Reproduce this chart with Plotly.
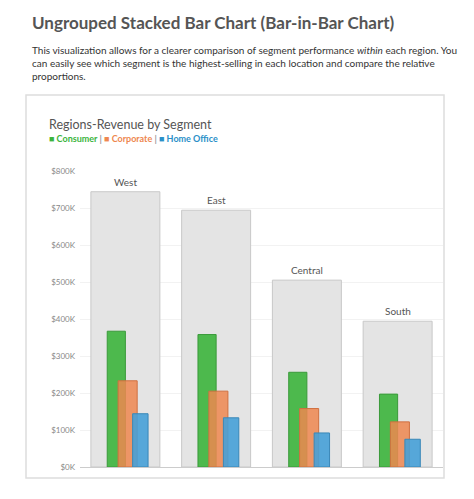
import plotly.graph_objects as go

regions = ["West", "East", "Central", "South"]
total = [744, 694, 505, 394]
consumer = [367, 358, 256, 197]
corporate = [233, 205, 158, 122]
home_office = [144, 133, 92, 75]

# page adds ~8px body margin, so draw the figure a bit smaller and shifted
OFF = 8
W, H = 474 - OFF, 499 - OFF
L, R, T, B = 80 - OFF, 39 - OFF, 171 - OFF, 40 - OFF
PW, PH = W - L - R, H - T - B


def px(x):
    return (x - OFF - L) / PW


def py(y):
    return (H - B - (y - OFF)) / PH


fig = go.Figure()
fig.add_bar(x=regions, y=[v * 1000 for v in total], width=0.76, offset=-0.38,
            marker=dict(color="#e4e4e4", line=dict(color="#c8c8c8", width=1)),
            hoverinfo="skip")
fig.add_bar(x=regions, y=[v * 1000 for v in consumer], width=0.2, offset=-0.2,
            marker=dict(color="rgba(60,180,60,0.9)", line=dict(color="#3a9a3a", width=1)), name="Consumer")
fig.add_bar(x=regions, y=[v * 1000 for v in corporate], width=0.21, offset=-0.08,
            marker=dict(color="rgba(238,135,80,0.85)", line=dict(color="#d07040", width=1)), name="Corporate")
fig.add_bar(x=regions, y=[v * 1000 for v in home_office], width=0.17, offset=0.08,
            marker=dict(color="rgba(70,160,215,0.9)", line=dict(color="#3a88b8", width=1)), name="Home Office")

for r, t in zip(regions, total):
    fig.add_annotation(x=r, y=t * 1000, text=r, showarrow=False, yanchor="bottom", yshift=2,
                       font=dict(size=10, color="#555"))

ann = [
    dict(x=px(30), y=py(22), text="<b>Ungrouped Stacked Bar Chart (Bar-in-Bar Chart)</b>",
         font=dict(size=17, color="#555")),
    dict(x=px(30), y=py(63),
         text="This visualization allows for a clearer comparison of segment performance <i>within</i> each region. You<br>"
              "can easily see which segment is the highest-selling in each location and compare the relative<br>proportions.",
         font=dict(size=10, color="#333"), align="left"),
    dict(x=px(47), y=py(124), text="Regions-Revenue by Segment", font=dict(size=12.5, color="#555")),
    dict(x=px(47), y=py(138),
         text="<b><span style='color:#3cb43c'>■ Consumer</span> <span style='color:#999'>|</span> "
              "<span style='color:#ee8750'>■ Corporate</span> <span style='color:#999'>|</span> "
              "<span style='color:#2a90c8'>■ Home Office</span></b>",
         font=dict(size=9)),
]
for a in ann:
    fig.add_annotation(xref="paper", yref="paper", xanchor="left", yanchor="middle", showarrow=False, **a)

fig.add_shape(type="rect", xref="paper", yref="paper", x0=px(26), x1=px(444), y0=py(478), y1=py(95),
              line=dict(color="#dddddd", width=1.5), fillcolor="rgba(0,0,0,0)", layer="below")

fig.update_layout(
    width=W, height=H, barmode="overlay", showlegend=False,
    margin=dict(l=L, r=R, t=T, b=B),
    plot_bgcolor="white", paper_bgcolor="white",
    font=dict(family="Lato, sans-serif"),
    xaxis=dict(showticklabels=False, showgrid=False, range=[-0.5, 3.5], showline=True, linecolor="#ccc"),
    yaxis=dict(range=[0, 800000], tickvals=[i * 100000 for i in range(9)],
               ticktext=[f"${i * 100}K" for i in range(9)], gridcolor="#f2f2f2",
               tickfont=dict(size=8, color="#888"), zeroline=False, ticks="", ticklabelstandoff=4),
)
fig.write_html("out.html")
